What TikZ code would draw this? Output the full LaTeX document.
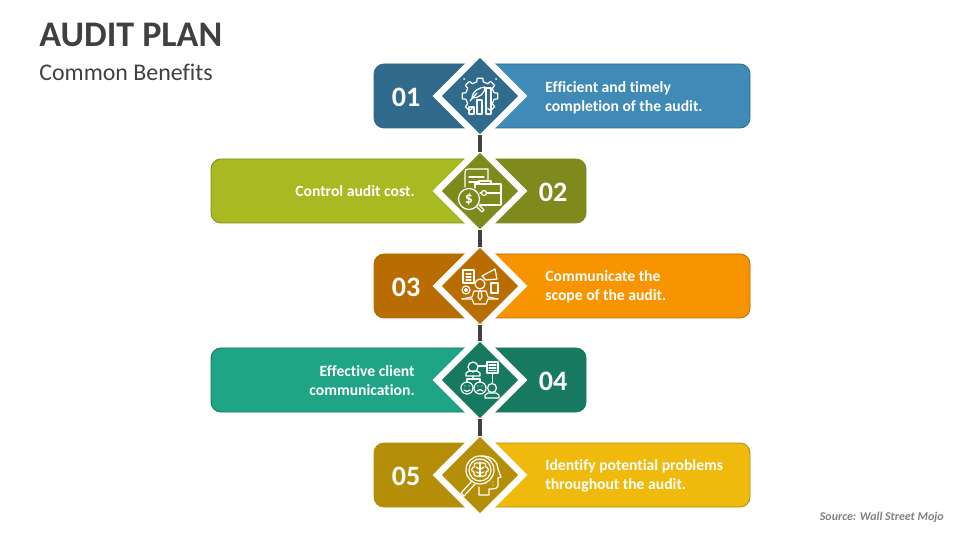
\documentclass[tikz,border=0pt]{standalone}
\usepackage{fontspec}
\setmainfont{Carlito}[Ligatures=NoCommon]
\usetikzlibrary{shapes.geometric}

\definecolor{blueD}{HTML}{306A8C}
\definecolor{blueL}{HTML}{3F8AB7}
\definecolor{oliveD}{HTML}{7E8A1C}
\definecolor{oliveL}{HTML}{A9B921}
\definecolor{orangeD}{HTML}{B96C00}
\definecolor{orangeL}{HTML}{F79400}
\definecolor{greenD}{HTML}{17795F}
\definecolor{greenL}{HTML}{1FA586}
\definecolor{goldD}{HTML}{B48E06}
\definecolor{goldL}{HTML}{EFBA0B}
\definecolor{inkgray}{HTML}{404040}

\tikzset{
    bar/.style={rounded corners=0.2cm, line width=0.5pt},
    halo/.style={diamond, aspect=1, fill=white, inner sep=0pt, minimum size=1.9cm},
    gem/.style={diamond, aspect=1, inner sep=0pt, minimum size=1.53cm},
    link/.style={draw=inkgray, line width=2.1pt},
    num/.style={text=white, font=\bfseries\fontsize{16}{16}\selectfont},
    body/.style={text=white, font=\bfseries\fontsize{8.9}{10.8}\selectfont, inner sep=0pt},
    icon/.style={draw=white, line width=0.7pt, line join=round, line cap=round}
}

\begin{document}
\begin{tikzpicture}[x=0.02cm, y=-0.02cm]
    \useasboundingbox (0,0) rectangle (960,540);

    % Title block
    \node[anchor=base west, inner sep=0pt, text=inkgray, font=\bfseries\fontsize{20.5}{20.5}\selectfont] (title) at (39,47) {AUDIT PLAN};
    \node[anchor=base west, inner sep=0pt, text=inkgray, font=\fontsize{13.6}{13.6}\selectfont] (subtitle) at (39,81) {Common Benefits};
    \node[anchor=base east, inner sep=0pt, text=gray, font=\bfseries\itshape\fontsize{6.8}{6.8}\selectfont] (source) at (944,520) {Source: Wall Street Mojo};

    % Bars, dark half and light half
    \draw[bar, fill=blueD, draw=blueD] (374,64) rectangle (480,128);
    \draw[bar, fill=blueL, draw=blueD] (480,64) rectangle (750,128);
    \draw[bar, fill=oliveL, draw=oliveD] (211,159) rectangle (480,223);
    \draw[bar, fill=oliveD, draw=oliveD] (480,159) rectangle (586,223);
    \draw[bar, fill=orangeD, draw=orangeD] (374,254) rectangle (480,318);
    \draw[bar, fill=orangeL, draw=orangeD] (480,254) rectangle (750,318);
    \draw[bar, fill=greenL, draw=greenD] (211,348) rectangle (480,412);
    \draw[bar, fill=greenD, draw=greenD] (480,348) rectangle (586,412);
    \draw[bar, fill=goldD, draw=goldD] (374,443) rectangle (480,507);
    \draw[bar, fill=goldL, draw=goldD] (480,443) rectangle (750,507);

    % White diamonds behind the coloured ones
    \node[halo] (halo1) at (480,96) {};
    \node[halo] (halo2) at (480,191) {};
    \node[halo] (halo3) at (480,286) {};
    \node[halo] (halo4) at (480,380) {};
    \node[halo] (halo5) at (480,475) {};

    % Coloured diamonds
    \node[gem, fill=blueD] (gem1) at (480,96) {};
    \node[gem, fill=oliveD] (gem2) at (480,191) {};
    \node[gem, fill=orangeD] (gem3) at (480,286) {};
    \node[gem, fill=greenD] (gem4) at (480,380) {};
    \node[gem, fill=goldD] (gem5) at (480,475) {};

    % Spine between the diamonds
    \draw[link] (gem1.south) -- (gem2.north);
    \draw[link] (gem2.south) -- (gem3.north);
    \draw[link] (gem3.south) -- (gem4.north);
    \draw[link] (gem4.south) -- (gem5.north);

    % Numbers
    \node[num] (num1) at (406,97) {01};
    \node[num] (num2) at (553,192) {02};
    \node[num] (num3) at (406,287) {03};
    \node[num] (num4) at (553,381) {04};
    \node[num] (num5) at (406,476) {05};

    % Texts
    \node[body, anchor=west, align=left] (text1) at (545,97.5) {Efficient and timely\\completion of the audit.};
    \node[body, anchor=east, align=right] (text2) at (415,191) {Control audit cost.};
    \node[body, anchor=west, align=left] (text3) at (545,287) {Communicate the\\scope of the audit.};
    \node[body, anchor=east, align=right] (text4) at (415,381) {Effective client\\communication.};
    \node[body, anchor=west, align=left] (text5) at (545,476) {Identify potential problems\\throughout the audit.};

    % Icon 1: gear with bars
    \begin{scope}[shift={(480,96)}, icon]
        \draw (122:14.5) -- (126:18) -- (144:18) -- (148:14.5) -- (167:14.5) -- (171:18) -- (189:18) -- (193:14.5)
            -- (212:14.5) -- (216:18) -- (234:18) -- (238:14.5) -- (257:14.5) -- (261:18) -- (279:18) -- (283:14.5)
            -- (302:14.5) -- (306:18) -- (324:18) -- (328:14.5) -- (347:14.5) -- (351:18) -- (369:18) -- (373:14.5)
            -- (392:14.5) -- (396:18) -- (414:18) -- (418:14.5);
        \draw (-11,11) rectangle (-6,18);
        \draw (-3,4) rectangle (2,18);
        \draw (6,-8) rectangle (11,18);
        \draw (-8,2) .. controls (-7,-6) and (-1,-8) .. (5,-9) .. controls (5,-3) and (0,2) .. (-8,2);
        \draw (-10,5) -- (-3,-3);
        \fill[white] (-16,-17) circle (1);
        \fill[white] (16,-17) circle (1);
    \end{scope}

    % Icon 2: papers, briefcase and magnifier
    \begin{scope}[shift={(480,191)}, icon]
        \draw (-15,-4) -- (-15,-18) .. controls (-15,-21) and (-14,-22) .. (-12,-22) -- (8,-22) -- (8,-11);
        \draw (-11,-14) -- (4,-14);
        \draw (-11,-9) -- (-2,-9);
        \draw (-1,-7) -- (-1,-10) -- (11,-10) -- (11,-7);
        \draw (0,14) -- (21,14) -- (21,-7) -- (-5,-7) -- (-5,-3);
        \draw (0,2) -- (1,2);
        \draw (7,2) -- (21,2);
        \draw (4,2) circle (2.5);
        \draw (-11,8) circle (10.5);
        \draw (-3,16) -- (2,21) -- (4,19) -- (-1,14);
        \node[text=white, font=\bfseries\fontsize{9}{9}\selectfont, inner sep=0pt] (dollar) at (-11,8) {\$};
    \end{scope}

    % Icon 3: speaker with document, megaphone and phone
    \begin{scope}[shift={(480,286)}, icon]
        \draw (-17,-16) rectangle (-6,-3);
        \draw (-14,-12) -- (-9,-12);
        \draw (-14,-9) -- (-9,-9);
        \draw (-14,-6) -- (-9,-6);
        \draw (2,-10) -- (15,-17) -- (17,-7) -- (6,-6) -- cycle;
        \draw (11,-3) rectangle (18,7);
        \draw (0,-2) circle (5);
        \draw (-14,4) circle (4);
        \draw (-14,4) circle (1.5);
        \draw (-18,13) -- (-8,11) -- (-6,5) -- (6,5) -- (8,11) -- (18,13);
        \draw (-18,13) -- (-8,13) -- (-6,18) -- (6,18) -- (8,13) -- (18,13);
        \draw (-1,5) -- (-2,11) -- (0,14) -- (2,11) -- (1,5);
    \end{scope}

    % Icon 4: people, forms and faces
    \begin{scope}[shift={(480,380)}, icon]
        \draw (-7,-13) circle (5);
        \draw (-14,-4) -- (-14,-7) -- (-11,-9) -- (-3,-9) -- (0,-7) -- (0,-4) -- cycle;
        \draw (-2,-14) -- (7,-14);
        \draw (7,-18) rectangle (18,-7);
        \draw (9,-15) -- (16,-15);
        \draw (9,-12) -- (16,-12);
        \draw (9,-9.5) -- (16,-9.5);
        \draw (12.5,-7) -- (12.5,3);
        \draw (-7,-4) -- (-7,-1);
        \draw (-13,2) -- (-13,-1) -- (0,-1) -- (0,2);
        \draw (-13,8) circle (6);
        \draw (0,8) circle (6);
        \draw (-16,10) .. controls (-14,12) and (-12,12) .. (-10,10);
        \draw (-3,11) .. controls (-1,9) and (1,9) .. (3,11);
        \fill[white] (-15,6) circle (0.6) (-11,6) circle (0.6) (-2,6) circle (0.6) (2,6) circle (0.6);
        \draw (12,8) circle (4.5);
        \draw (5,18) -- (5,15) -- (8,13) -- (16,13) -- (19,15) -- (19,18) -- cycle;
    \end{scope}

    % Icon 5: head, brain and magnifier
    \begin{scope}[shift={(480,475)}, icon]
        \draw (0,-5) circle (14);
        \draw (0,-5) circle (11);
        \draw (-1,-12) .. controls (-5,-13) and (-7,-10) .. (-6,-8) .. controls (-9,-7) and (-9,-3) .. (-6,-3)
            .. controls (-7,0) and (-4,2) .. (-1,1);
        \draw (1,-12) .. controls (5,-13) and (7,-10) .. (6,-8) .. controls (9,-7) and (9,-3) .. (6,-3)
            .. controls (7,0) and (4,2) .. (1,1);
        \draw (0,-13) -- (0,2);
        \draw (-4,-8) -- (-1,-6);
        \draw (4,-8) -- (1,-6);
        \draw (-4,-3) -- (-1,-2);
        \draw (4,-3) -- (1,-2);
        \draw (-8,6) -- (-19,18) -- (-16,21) -- (-5,9);
        \draw (2,-19) .. controls (12,-19) and (18,-13) .. (18,-6) -- (21,2) -- (18,3) -- (18,11)
            .. controls (18,13) and (16,14) .. (9,14) -- (9,20) -- (-1,20) -- (-1,12);
        \fill[white] (13,7) circle (0.6) (13,10) circle (0.6);
    \end{scope}
\end{tikzpicture}
\end{document}
